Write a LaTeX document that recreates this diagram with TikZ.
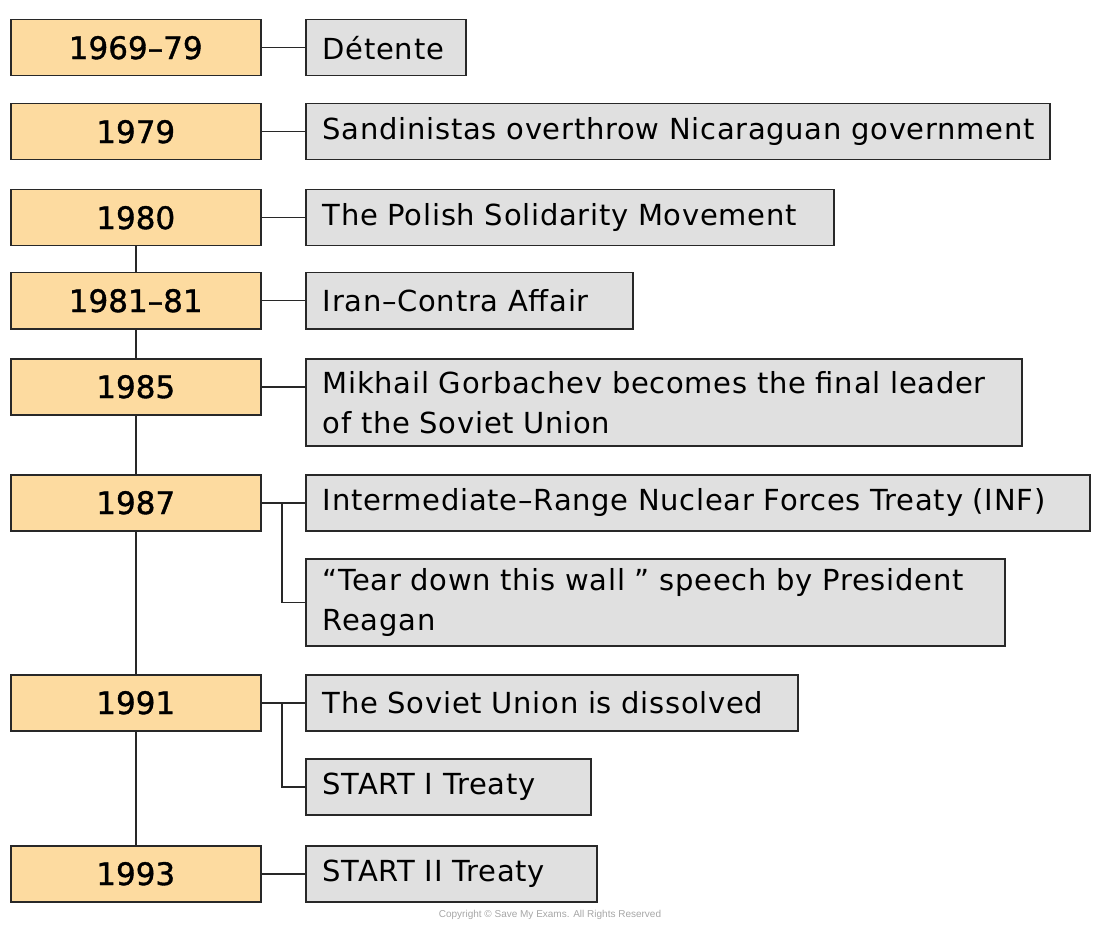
\documentclass[tikz,border=0pt]{standalone}
\usepackage{fontspec}
\setmainfont{DejaVu Sans}[LetterSpace=2.5]
\newfontfamily\yearfont{DejaVu Sans}[FakeBold=1.2]
\newfontfamily\copyfont{Liberation Sans}
\definecolor{yearfill}{RGB}{253,219,160}
\definecolor{eventfill}{RGB}{224,224,224}
\definecolor{edge}{RGB}{40,40,40}
\tikzset{
  yearbox/.style={draw=edge, line width=1.5pt, fill=yearfill, anchor=north west,
    minimum width=250pt, minimum height=56pt, inner sep=0pt,
    font=\yearfont\fontsize{31}{36}\selectfont},
  eventbox/.style={draw=edge, line width=1.5pt, fill=eventfill, anchor=north west,
    minimum height=56pt, inner xsep=17pt, inner ysep=0pt, align=left,
    font=\fontsize{29}{40}\selectfont},
  link/.style={draw=edge, line width=1.5pt}
}
\begin{document}
\begin{tikzpicture}[x=1pt,y=-1pt]
\useasboundingbox (0,0) rectangle (1100,933);
% years
\node[yearbox] (y69) at (10,19)  {1969–79};
\node[yearbox] (y79) at (10,103) {1979};
\node[yearbox] (y80) at (10,189) {1980};
\node[yearbox] (y81) at (10,272) {1981–81};
\node[yearbox] (y85) at (10,358) {1985};
\node[yearbox] (y87) at (10,474) {1987};
\node[yearbox] (y91) at (10,674) {1991};
\node[yearbox] (y93) at (10,845) {1993};
% events
\node[eventbox, text width=126pt] (e69) at (305,19) {Détente};
\node[eventbox, text width=710pt] (e79) at (305,103) {Sandinistas overthrow Nicaraguan government};
\node[eventbox, text width=494pt] (e80) at (305,189) {The Polish Solidarity Movement};
\node[eventbox, text width=293pt] (e81) at (305,272) {Iran–Contra Affair};
\node[eventbox, text width=682pt, minimum height=87pt] (e85) at (305,358) {Mikhail Gorbachev becomes the final leader\\of the Soviet Union};
\node[eventbox, text width=750pt] (e87a) at (305,474) {Intermediate–Range Nuclear Forces Treaty (INF)};
\node[eventbox, text width=665pt, minimum height=87pt] (e87b) at (305,558) {“Tear down this wall ” speech by President\\Reagan};
\node[eventbox, text width=458pt] (e91a) at (305,674) {The Soviet Union is dissolved};
\node[eventbox, text width=251pt] (e91b) at (305,758) {START I Treaty};
\node[eventbox, text width=257pt] (e93) at (305,845) {START II Treaty};
% timeline
\draw[link] (y80.south) -- (y81.north);
\draw[link] (y81.south) -- (y85.north);
\draw[link] (y85.south) -- (y87.north);
\draw[link] (y87.south) -- (y91.north);
\draw[link] (y91.south) -- (y93.north);
% connectors
\coordinate (j) at (282,0);
\draw[link] (y69.east) -- (e69.west);
\draw[link] (y79.east) -- (e79.west);
\draw[link] (y80.east) -- (e80.west);
\draw[link] (y81.east) -- (e81.west);
\draw[link] (y85.east) -- (y85.east -| e85.west);
\draw[link] (y87.east) -- (e87a.west);
\draw[link] (y87.east -| j) |- (e87b.west);
\draw[link] (y91.east) -- (e91a.west);
\draw[link] (y91.east -| j) |- (e91b.west);
\draw[link] (y93.east) -- (e93.west);
\node[font=\copyfont\fontsize{10}{12}\selectfont, text=gray!70] (copy) at (550,915) {Copyright © Save My Exams. All Rights Reserved};
\end{tikzpicture}
\end{document}
